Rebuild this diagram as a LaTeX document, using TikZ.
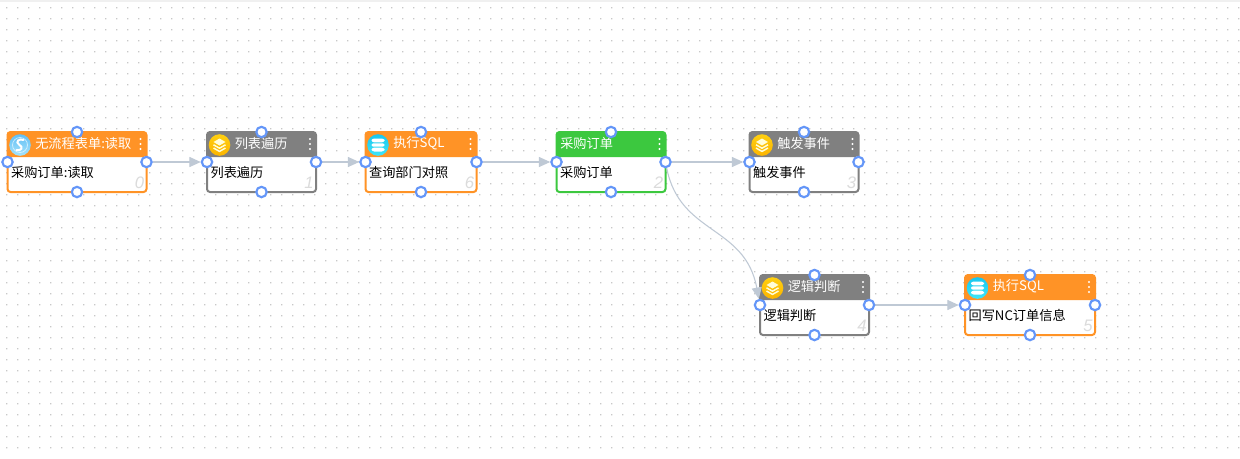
\documentclass[tikz,border=0pt]{standalone}
\usepackage{fontspec}
\setmainfont{Noto Sans CJK SC}
\newfontfamily\numfont{Liberation Sans}
\usetikzlibrary{arrows.meta}
\pgfdeclarelayer{grid}\pgfdeclarelayer{boxes}\pgfdeclarelayer{edges}
\pgfsetlayers{grid,boxes,edges,main}
\definecolor{hdorange}{HTML}{FF9326}
\definecolor{hdgray}{HTML}{808080}
\definecolor{hdgreen}{HTML}{3CC83F}
\definecolor{portblue}{HTML}{6496F8}
\definecolor{edgecol}{HTML}{BFC9D5}
\definecolor{dotcol}{HTML}{C8C8C8}
\definecolor{icoblueA}{HTML}{62BFF5}
\definecolor{icoblueB}{HTML}{A5E3FB}
\definecolor{icoyelA}{HTML}{FFCF10}
\definecolor{icoyelB}{HTML}{FBB400}
\definecolor{icocyanA}{HTML}{18C6EE}
\definecolor{icocyanB}{HTML}{3FE6F8}
\tikzset{
  flowbox/.style={draw=#1,fill=white,line width=1.5pt,rounded corners=2.25pt,anchor=north west,inner sep=0pt,outer sep=0pt},
  port/.style={circle,draw=portblue,fill=white,line width=1.6pt,minimum size=7.8pt,inner sep=0pt,outer sep=0.8pt},
  titletext/.style={text=white,font=\fontsize{9.9pt}{11pt}\selectfont,anchor=west,inner sep=0pt},
  bodytext/.style={text=black,font=\fontsize{9.9pt}{11pt}\selectfont,anchor=west,inner sep=0pt},
  numtext/.style={text=black!14,font=\fontsize{12.5pt}{13pt}\numfont\itshape,anchor=east,inner sep=0pt},
  iconbase/.style={circle,minimum size=16.2pt,inner sep=0pt},
  flowedge/.style={draw=edgecol,line width=0.8pt,-{Triangle[length=8.5pt,width=7.5pt,fill=edgecol]}},
}
\newcommand{\iconnone}[1]{}
\newcommand{\iconswirl}[1]{%
  \node[iconbase,top color=icoblueA,bottom color=icoblueB] (#1-i) at (12.5,13) {};
  \begin{scope}[shift={(#1-i.center)}]
    \draw[white,line width=1.5pt,line cap=round] (3.5,-5) .. controls (-1,-7) and (-5,-3) .. (-1,-0.5) .. controls (4,2) and (1,6.5) .. (-3.5,5);
    \draw[white,opacity=.6,line width=0.6pt] (0,0) circle (7.5);
  \end{scope}}
\newcommand{\iconstack}[1]{%
  \node[iconbase,top color=icoyelA,bottom color=icoyelB] (#1-i) at (12.5,13) {};
  \begin{scope}[shift={(#1-i.center)}]
    \fill[white!85!yellow] (-6,-3) -- (0,-6.5) -- (6,-3) -- (0,0.5) -- cycle;
    \draw[white!85!yellow,line width=1.1pt,line join=round] (-6,-0.2) -- (0,3.2) -- (6,-0.2);
    \draw[white!85!yellow,line width=1.1pt,line join=round] (-6,3) -- (0,6.4) -- (6,3);
  \end{scope}}
\newcommand{\icondb}[1]{%
  \node[iconbase,top color=icocyanA,bottom color=icocyanB] (#1-i) at (12.5,13) {};
  \begin{scope}[shift={(#1-i.center)}]
    \fill[white,rounded corners=2pt] (-6.5,-6.5) rectangle (6.5,-2.6);
    \fill[white,rounded corners=1.5pt] (-6.5,-1.7) rectangle (6.5,1.7);
    \fill[white,rounded corners=2pt] (-6.5,2.6) rectangle (6.5,6.5);
  \end{scope}}
\newcommand{\nodenum}{}
\newcommand{\titlex}{27.5}
\newcommand{\flownode}[9]{%
  \begin{pgfonlayer}{boxes}
  \node[flowbox=#6,minimum width={(#4)*0.75pt},minimum height={(#5)*0.75pt}] (#1) at (#2,#3) {};
  \fill[#6,rounded corners=2.25pt] (#1.north west) -- ++(#4,0) -- ++(0,25) [sharp corners] -- ++(-#4,0) -- cycle;
  \end{pgfonlayer}
  \begin{scope}[shift={(#1.north west)}]
    #7{#1}
    \node[titletext] (#1-t) at (\titlex,11.5) {#8};
    \node[bodytext] (#1-b) at (3.3,40.5) {#9};
    \node[numtext] (#1-n) at ({#4-2},51) {\nodenum};
    \fill[white] ({#4-6},7) circle (1.15) ({#4-6},12) circle (1.15) ({#4-6},17) circle (1.15);
  \end{scope}
  \node[port] (#1-top) at (#1.north) {};
  \node[port] (#1-bot) at (#1.south) {};
  \node[port] (#1-l) at (#1.west) {};
  \node[port] (#1-r) at (#1.east) {};
}
\begin{document}
\begin{tikzpicture}[x=0.75pt,y=-0.75pt]
\useasboundingbox (0,0) rectangle (1240,458);
\begin{pgfonlayer}{grid}
\fill[white] (0,0) rectangle (1240,458);
\fill[black!6] (0,0) rectangle (1240,1.5);
\fill[dotcol]
 \foreach \i in {0,...,112}{\foreach \j in {0,...,40}{
   ({6+11*\i},{7+11*\j}) rectangle ++(1.4,1.4)
 }};
\end{pgfonlayer}
\renewcommand{\nodenum}{0}
\flownode{n0}{7.5}{132}{139}{60}{hdorange}{\iconswirl}{无流程表单:读取}{采购订单:读取}
\renewcommand{\nodenum}{1}
\flownode{n1}{207}{132}{109}{60}{hdgray}{\iconstack}{列表遍历}{列表遍历}
\renewcommand{\nodenum}{6}
\flownode{n6}{365.5}{132}{111}{60}{hdorange}{\icondb}{执行SQL}{查询部门对照}
\renewcommand{\nodenum}{2}
\renewcommand{\titlex}{3.5}
\flownode{n2}{556.5}{132}{109}{60}{hdgreen}{\iconnone}{采购订单}{采购订单}
\renewcommand{\titlex}{27.5}
\renewcommand{\nodenum}{3}
\flownode{n3}{749.5}{132}{109}{60}{hdgray}{\iconstack}{触发事件}{触发事件}
\renewcommand{\nodenum}{4}
\flownode{n4}{760}{275}{109}{60}{hdgray}{\iconstack}{逻辑判断}{逻辑判断}
\renewcommand{\nodenum}{5}
\flownode{n5}{965}{275}{130}{60}{hdorange}{\icondb}{执行SQL}{回写NC订单信息}
\begin{pgfonlayer}{edges}
\draw[flowedge] (n0-r) -- (n1-l);
\draw[flowedge] (n1-r) -- (n6-l);
\draw[flowedge] (n6-r) -- (n2-l);
\draw[flowedge] (n2-r) -- (n3-l);
\draw[flowedge] (n2-r) .. controls (680,235) and (745,225) .. (n4-l);
\draw[flowedge] (n4-r) -- (n5-l);
\end{pgfonlayer}
\end{tikzpicture}
\end{document}
